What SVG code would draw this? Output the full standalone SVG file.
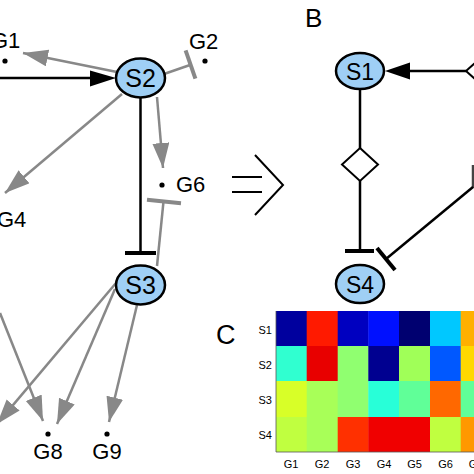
<svg xmlns="http://www.w3.org/2000/svg" width="474" height="474" viewBox="0 0 474 474">
<style>
.node ellipse{fill:#9fcff5;stroke:#000;stroke-width:2.5}
.node text{font-family:"Liberation Sans",Arial,sans-serif;fill:#000;text-anchor:middle}
.lbl{font-family:"Liberation Sans",Arial,sans-serif;font-size:22px;fill:#000}
.g{stroke:#888;stroke-width:2.5;fill:none}
.gbar{stroke:#888;stroke-width:4;fill:none}
.k{stroke:#000;stroke-width:2.5;fill:none}
.kbar{stroke:#000;stroke-width:4;fill:none}
.dot{fill:#000}
.ax{font-family:"Liberation Sans",Arial,sans-serif;font-size:11px;fill:#000}
</style>
<defs>
<marker id="ga" markerUnits="userSpaceOnUse" markerWidth="26" markerHeight="18" refX="25" refY="8.5" orient="auto"><path d="M0,0 L25,8.5 L0,17 z" fill="#888"/></marker>
</defs>
<rect width="474" height="474" fill="#fff"/>

<!-- Panel A connectors -->
<g id="connectors-A">
<line class="k" x1="0" y1="78" x2="92" y2="78"/>
<polygon points="90,70.5 116,78 90,86.5" fill="#000"/>
<line class="g" x1="117" y1="72" x2="23" y2="53" marker-end="url(#ga)"/>
<line class="g" x1="164" y1="74" x2="190" y2="65"/>
<line class="gbar" x1="185.6" y1="50.3" x2="195.4" y2="78.7"/>
<line class="g" x1="157" y1="97" x2="163" y2="168" marker-end="url(#ga)"/>
<line class="g" x1="122" y1="94" x2="5" y2="193" marker-end="url(#ga)"/>
<line class="k" x1="140.5" y1="98" x2="140.5" y2="253"/>
<line class="kbar" x1="125" y1="253" x2="156" y2="253"/>
<line class="g" x1="157" y1="266" x2="163.5" y2="201.5"/>
<line class="gbar" x1="147" y1="199.8" x2="181" y2="203.2"/>
<line class="g" x1="116" y1="283" x2="-3" y2="424" marker-end="url(#ga)"/>
<line class="g" x1="115" y1="289" x2="57" y2="424" marker-end="url(#ga)"/>
<line class="g" x1="137" y1="305" x2="109" y2="422" marker-end="url(#ga)"/>
<line class="g" x1="0" y1="313" x2="43" y2="421" marker-end="url(#ga)"/>
</g>

<!-- Panel A gene dots and labels -->
<g id="G1"><circle class="dot" cx="5" cy="61" r="2.6"/><text class="lbl" x="-9" y="48">G1</text></g>
<g id="G2"><circle class="dot" cx="205" cy="61" r="2.6"/><text class="lbl" x="189" y="49">G2</text></g>
<g id="G4"><text class="lbl" x="-3" y="227">G4</text></g>
<g id="G6"><circle class="dot" cx="162" cy="185" r="2.6"/><text class="lbl" x="176" y="192">G6</text></g>
<g id="G8"><circle class="dot" cx="48" cy="434" r="2.6"/><text class="lbl" x="48" y="459" text-anchor="middle">G8</text></g>
<g id="G9"><circle class="dot" cx="107" cy="434" r="2.6"/><text class="lbl" x="107" y="459" text-anchor="middle">G9</text></g>

<g id="S2" class="node"><ellipse cx="140.5" cy="78" rx="24.5" ry="19.5"/><text x="140.5" y="87" font-size="25">S2</text></g>
<g id="S3" class="node"><ellipse cx="140.5" cy="285" rx="24.5" ry="19.5"/><text x="140.5" y="294" font-size="25">S3</text></g>

<!-- implies arrow -->
<g id="implies" stroke="#000" stroke-width="2" fill="none">
<line x1="232" y1="177" x2="262" y2="177"/>
<line x1="232" y1="192" x2="262" y2="192"/>
<polyline points="255,155 283,185 255,215"/>
</g>

<!-- Panel B -->
<text class="lbl" x="305" y="27" font-size="26" style="font-size:26px">B</text>
<g id="connectors-B">
<line class="k" x1="466" y1="71" x2="408" y2="71"/>
<polygon points="410,62.5 385,71 410,79.5" fill="#000"/>
<polygon points="466,71 484,55 502,71 484,87" fill="#fff" stroke="#000" stroke-width="2"/>
<line class="k" x1="360" y1="89" x2="360" y2="148"/>
<polygon points="360,148 378,164.5 360,181 342,164.5" fill="#fff" stroke="#000" stroke-width="2"/>
<line class="k" x1="360" y1="181" x2="360" y2="251"/>
<line class="kbar" x1="345" y1="251" x2="374" y2="251"/>
<line stroke="#444" stroke-width="2.5" x1="473" y1="165" x2="473" y2="188"/>
<line class="k" x1="473" y1="187" x2="386" y2="259"/>
<line class="kbar" x1="377" y1="248" x2="395" y2="270"/>
</g>
<g id="S1" class="node"><ellipse cx="360" cy="71" rx="24" ry="18"/><text x="360" y="79.5" font-size="23">S1</text></g>
<g id="S4" class="node"><ellipse cx="360" cy="284" rx="24" ry="19"/><text x="360" y="292.5" font-size="23">S4</text></g>

<!-- Panel C -->
<text class="lbl" x="216" y="344" style="font-size:27px">C</text>
<g id="heatmap">
<rect x="276" y="311" width="31" height="35.5" fill="#00009e"/>
<rect x="306.7" y="311" width="31.3" height="35.5" fill="#ff1a00"/>
<rect x="337.7" y="311" width="31" height="35.5" fill="#0000c0"/>
<rect x="368.3" y="311" width="31" height="35.5" fill="#0010ff"/>
<rect x="399" y="311" width="31.3" height="35.5" fill="#000070"/>
<rect x="430" y="311" width="31" height="35.5" fill="#00c8ff"/>
<rect x="460.7" y="311" width="14" height="35.5" fill="#ffb000"/>

<rect x="276" y="346" width="31" height="35.5" fill="#30ffd0"/>
<rect x="306.7" y="346" width="31.3" height="35.5" fill="#e80000"/>
<rect x="337.7" y="346" width="31" height="35.5" fill="#90ff70"/>
<rect x="368.3" y="346" width="31" height="35.5" fill="#000090"/>
<rect x="399" y="346" width="31.3" height="35.5" fill="#a0ff58"/>
<rect x="430" y="346" width="31" height="35.5" fill="#0058ff"/>
<rect x="460.7" y="346" width="14" height="35.5" fill="#ffd800"/>

<rect x="276" y="381" width="31" height="36.5" fill="#d8ff28"/>
<rect x="306.7" y="381" width="31.3" height="36.5" fill="#a8ff58"/>
<rect x="337.7" y="381" width="31" height="36.5" fill="#90ff70"/>
<rect x="368.3" y="381" width="31" height="36.5" fill="#28ffd8"/>
<rect x="399" y="381" width="31.3" height="36.5" fill="#60ff98"/>
<rect x="430" y="381" width="31" height="36.5" fill="#ff6800"/>
<rect x="460.7" y="381" width="14" height="36.5" fill="#60ff98"/>

<rect x="276" y="417" width="31" height="35" fill="#c0ff40"/>
<rect x="306.7" y="417" width="31.3" height="35" fill="#a8ff58"/>
<rect x="337.7" y="417" width="31" height="35" fill="#ff3000"/>
<rect x="368.3" y="417" width="31" height="35" fill="#f00000"/>
<rect x="399" y="417" width="31.3" height="35" fill="#f00000"/>
<rect x="430" y="417" width="31" height="35" fill="#c0ff40"/>
<rect x="460.7" y="417" width="14" height="35" fill="#ff9800"/>
<line x1="276" y1="311" x2="276" y2="452" stroke="#555" stroke-width="0.8"/>
<line x1="276" y1="452" x2="474" y2="452" stroke="#555" stroke-width="0.8"/>
</g>
<g id="axis-labels" class="ax">
<text x="272" y="334" text-anchor="end">S1</text>
<text x="272" y="369" text-anchor="end">S2</text>
<text x="272" y="404" text-anchor="end">S3</text>
<text x="272" y="439" text-anchor="end">S4</text>
<text x="291" y="468" text-anchor="middle">G1</text>
<text x="322" y="468" text-anchor="middle">G2</text>
<text x="353" y="468" text-anchor="middle">G3</text>
<text x="384" y="468" text-anchor="middle">G4</text>
<text x="414.5" y="468" text-anchor="middle">G5</text>
<text x="445.5" y="468" text-anchor="middle">G6</text>
<text x="476" y="468" text-anchor="middle">G7</text>
</g>
</svg>
